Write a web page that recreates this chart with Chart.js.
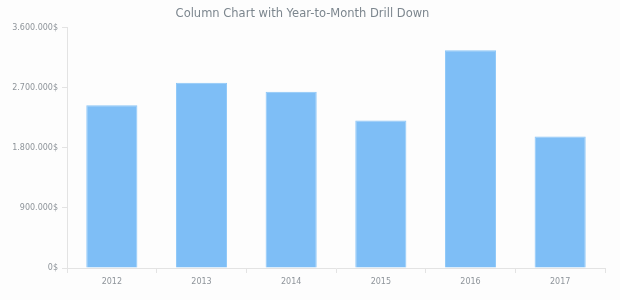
<!DOCTYPE html>
<html>
<head>
<meta charset="utf-8">
<script src="https://cdn.jsdelivr.net/npm/chart.js@4/dist/chart.umd.min.js"></script>
<style>
html,body{margin:0;padding:0;background:#fdfdfd;}
#wrap{width:620px;height:300px;}
</style>
</head>
<body>
<div id="wrap"><canvas id="c" width="620" height="300"></canvas></div>
<script>
const categories = ['2012', '2013', '2014', '2015', '2016', '2017'];
const revenue = [2440000, 2775000, 2640000, 2210000, 3265000, 1970000];
const yTicks = [0, 900000, 1800000, 2700000, 3600000];
const chartTitle = 'Column Chart with Year-to-Month Drill Down';

function fmt(v) {
  return String(Math.round(v)).replace(/\B(?=(\d{3})+(?!\d))/g, '.') + '$';
}

new Chart(document.getElementById('c'), {
  type: 'bar',
  data: {
    labels: categories,
    datasets: [{
      data: revenue,
      backgroundColor: '#7ebef6',
      borderColor: '#8cc6f7',
      borderWidth: 1,
      categoryPercentage: 1,
      barPercentage: 0.57
    }]
  },
  options: {
    responsive: false,
    animation: false,
    layout: { padding: { right: 15, left: 0, bottom: 0, top: 0 } },
    plugins: {
      legend: { display: false },
      tooltip: { enabled: false },
      title: {
        display: true,
        text: chartTitle,
        color: '#7c868e',
        font: { family: 'DejaVu Sans', size: 11.5, weight: 'normal' },
        padding: { top: 7, bottom: 7 }
      }
    },
    scales: {
      y: {
        min: 0,
        max: 3600000,
        afterBuildTicks: (s) => { s.ticks = yTicks.map(v => ({ value: v })); },
        afterFit: (s) => { s.width = 67; },
        ticks: {
          callback: (v) => fmt(v),
          color: '#8e949a',
          font: { family: 'DejaVu Sans', size: 8 },
          padding: 4
        },
        grid: { drawOnChartArea: false, drawTicks: true, tickLength: 5, color: '#e3e3e3' },
        border: { display: true, color: '#e3e3e3' }
      },
      x: {
        afterFit: (s) => { s.height = 32; },
        ticks: {
          color: '#8e949a',
          font: { family: 'DejaVu Sans', size: 8 },
          padding: 4
        },
        grid: { drawOnChartArea: false, drawTicks: true, tickLength: 5, color: '#e3e3e3', offset: true },
        border: { display: true, color: '#e3e3e3' }
      }
    }
  }
});
</script>
</body>
</html>
